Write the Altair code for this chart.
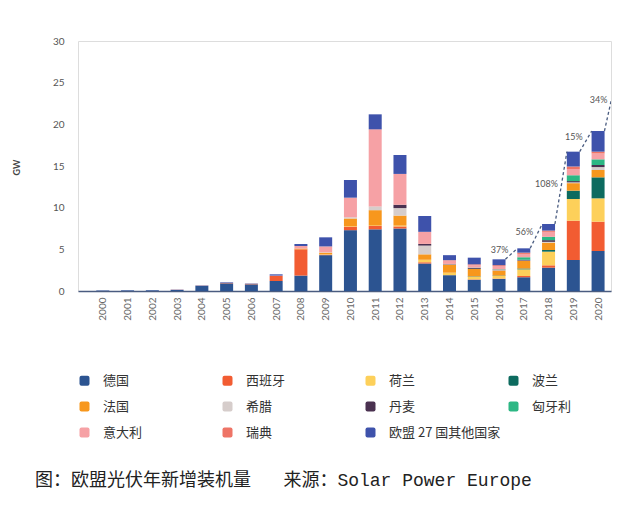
import altair as alt
import pandas as pd

years = list(range(2000, 2021))
countries = ["德国", "西班牙", "荷兰", "波兰", "法国", "希腊", "丹麦", "匈牙利",
             "意大利", "瑞典", "欧盟 27 国其他国家"]
colors = ["#2C5491", "#F25C32", "#FDD05A", "#0D6B5F", "#F7971D", "#D6CDCB",
          "#4A3150", "#2DB784", "#F6A1A5", "#EE7466", "#3E52AB"]

# GW per year, 2000..2020
de = [0.05, 0.07, 0.08, 0.12, 0.62, 0.92, 0.80, 1.20, 1.85, 4.30, 7.30, 7.40, 7.50,
      3.30, 1.90, 1.35, 1.45, 1.65, 2.80, 3.72, 4.80]
es = [0, 0, 0, 0.02, 0.02, 0.05, 0.06, 0.60, 3.15, 0.05, 0.40, 0.40, 0.25,
      0.15, 0, 0.05, 0.05, 0.15, 0.28, 4.72, 3.52]
nl = [0, 0, 0, 0, 0, 0, 0, 0, 0, 0.05, 0.05, 0.05, 0.10,
      0.30, 0.30, 0.30, 0.30, 0.80, 1.64, 2.60, 2.80]
pl = [0, 0, 0, 0, 0, 0, 0, 0, 0, 0, 0, 0, 0,
      0, 0, 0.05, 0.05, 0.10, 0.20, 1.00, 2.52]
fr = [0, 0, 0, 0, 0, 0, 0, 0, 0.10, 0.20, 0.95, 1.85, 1.20,
      0.65, 0.95, 0.90, 0.60, 0.90, 0.88, 0.90, 0.88]
gr = [0, 0, 0, 0, 0, 0, 0, 0, 0, 0.05, 0.15, 0.45, 0.90,
      1.05, 0.05, 0, 0.05, 0.05, 0.10, 0.10, 0.35]
dk = [0, 0, 0, 0, 0, 0, 0, 0, 0, 0, 0, 0, 0.40,
      0.20, 0.05, 0.10, 0.05, 0.10, 0.20, 0.15, 0.25]
hu = [0, 0, 0, 0, 0, 0, 0, 0, 0, 0, 0, 0, 0,
      0, 0, 0.05, 0.05, 0.30, 0.40, 0.70, 0.68]
it = [0, 0, 0, 0, 0, 0, 0, 0.05, 0.30, 0.70, 2.35, 9.25, 3.70,
      1.45, 0.40, 0.30, 0.40, 0.40, 0.60, 0.75, 0.70]
se = [0, 0, 0, 0, 0, 0, 0, 0, 0, 0, 0, 0, 0,
      0, 0.05, 0.10, 0.10, 0.15, 0.15, 0.30, 0.22]
other = [0.02, 0.02, 0.02, 0.03, 0.03, 0.07, 0.04, 0.15, 0.24, 1.09, 2.12, 1.80, 2.27,
         1.90, 0.60, 0.80, 0.70, 0.52, 0.79, 1.78, 2.48]
series = [de, es, nl, pl, fr, gr, dk, hu, it, se, other]

# growth trend (dashed line) 2016 -> 2021
trend_years = [2016, 2017, 2018, 2019, 2020, 2021]
total_2021 = 25.7
growth_labels = ["37%", "56%", "108%", "15%", "34%"]

caption = "图：欧盟光伏年新增装机量\u00a0\u00a0\u00a0来源：Solar Power Europe"

rows = []
for ci, (c, vals) in enumerate(zip(countries, series)):
    for y, v in zip(years, vals):
        rows.append({"year": y, "country": c, "idx": ci, "value": v})
bars_df = pd.DataFrame(rows)

totals = {y: sum(s[i] for s in series) for i, y in enumerate(years)}
totals[2021] = total_2021
half = 6.5 / 25.25
seg_rows, lab_rows = [], []
for i in range(len(trend_years) - 1):
    a, b = trend_years[i], trend_years[i + 1]
    seg_rows.append({"year": a + half, "year2": b - half,
                     "value": totals[a], "value2": totals[b]})
    lab_rows.append({"year": (a + b) / 2, "value": (totals[a] + totals[b]) / 2,
                     "label": growth_labels[i]})
seg_df = pd.DataFrame(seg_rows)
lab_df = pd.DataFrame(lab_rows)

xscale = alt.Scale(domain=[1999.2, 2020.32], nice=False, zero=False)
yscale = alt.Scale(domain=[0, 30], nice=False)

axis_font = "Lato"
rounded_sq = ("M-0.6,-1 L0.6,-1 Q1,-1 1,-0.6 L1,0.6 Q1,1 0.6,1 L-0.6,1 "
              "Q-1,1 -1,0.6 L-1,-0.6 Q-1,-1 -0.6,-1 Z")

xaxis = alt.Axis(values=years, format="d", labelAngle=-90, ticks=False,
                 grid=False, labelFlush=False, labelOverlap=False,
                 labelPadding=6, labelFontSize=10, labelColor="#666666",
                 labelFont=axis_font, domainColor="#4A5C80", domainWidth=1.5,
                 title=None)
yaxis = alt.Axis(values=[0, 5, 10, 15, 20, 25, 30], grid=False,
                 ticks=False, domain=False, labelPadding=14,
                 labelFontSize=10, labelColor="#555555",
                 labelFont=axis_font, title="GW", titleFontSize=9,
                 titleColor="#444444", titleFont=axis_font,
                 titleFontWeight="bold", titleX=-57, titleY=126)

bars = alt.Chart(bars_df).mark_bar(size=13).encode(
    x=alt.X("year:Q", scale=xscale, axis=xaxis),
    y=alt.Y("value:Q", stack="zero", scale=yscale, axis=yaxis),
    color=alt.Color("country:N",
                    scale=alt.Scale(domain=countries, range=colors),
                    legend=alt.Legend(title=None, orient="none", legendX=0,
                                      legendY=333, columns=4, direction="horizontal",
                                      gridAlign="all",
                                      columnPadding=6, rowPadding=12,
                                      symbolType=rounded_sq, symbolSize=100,
                                      symbolStrokeWidth=0, labelFontSize=13,
                                      labelFont="Noto Sans CJK SC",
                                      labelColor="#333333", labelOffset=12,
                                      labelLimit=200, padding=0)),
    order=alt.Order("idx:Q"),
)

segs = alt.Chart(seg_df).mark_rule(strokeDash=[3, 2.5], strokeWidth=1.3,
                                   color="#4A5C80", clip=True).encode(
    x=alt.X("year:Q", scale=xscale, axis=xaxis),
    x2="year2:Q",
    y=alt.Y("value:Q", scale=yscale, axis=yaxis),
    y2="value2:Q",
)

labels = alt.Chart(lab_df).mark_text(align="right", baseline="middle", dx=-3,
                                     dy=-4, fontSize=9, font=axis_font,
                                     color="#555555").encode(
    x=alt.X("year:Q", scale=xscale, axis=xaxis),
    y=alt.Y("value:Q", scale=yscale, axis=yaxis),
    text="label:N",
)

chart = alt.layer(bars, segs, labels).properties(
    width=533, height=250,
    autosize=alt.AutoSizeParams(type="none"),
    padding={"left": 78, "top": 41, "right": 29, "bottom": 214},
    title=alt.TitleParams(text=caption, orient="bottom", anchor="start",
                          frame="group", dx=-43, offset=32,
                          font="Liberation Mono, Noto Sans CJK SC",
                          fontSize=18, fontWeight="normal", color="#222222"),
).configure_view(stroke="transparent", strokeWidth=0).configure(background="white")

chart.save("out.html", embed_options={"renderer": "svg", "actions": False})
